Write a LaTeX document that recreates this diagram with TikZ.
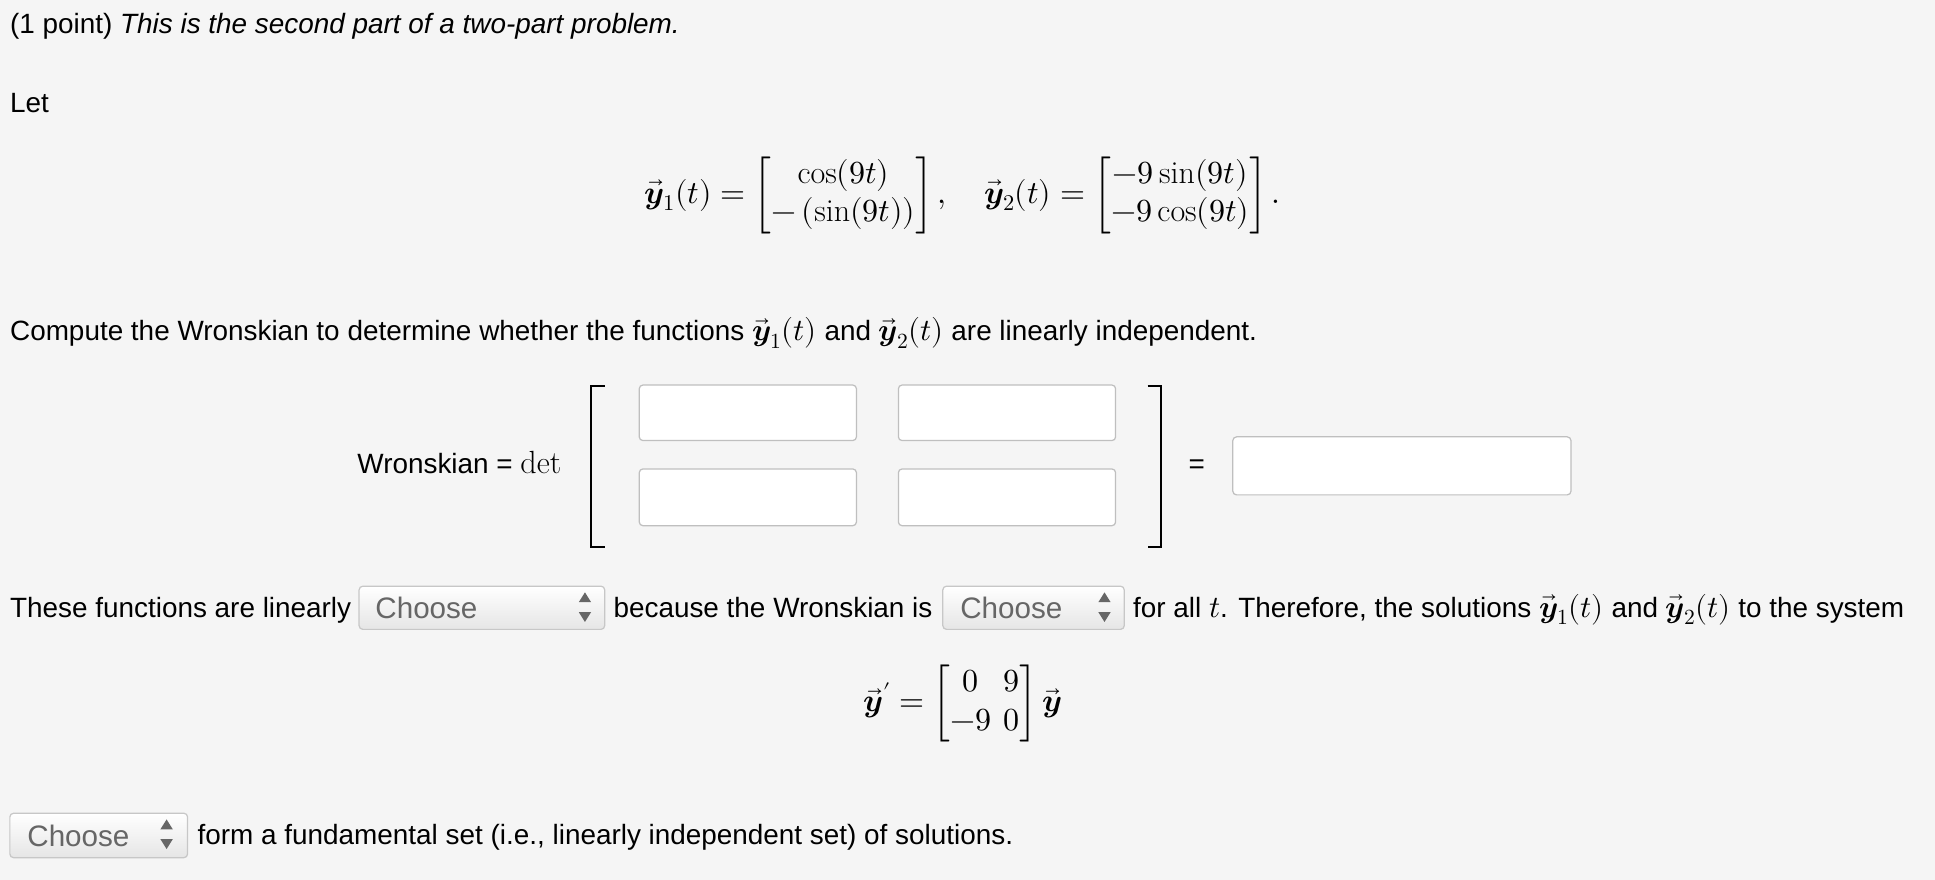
\documentclass[tikz,border=0pt]{standalone}
\usepackage{amsmath}
\usepackage{fontspec}
\setmainfont{Liberation Sans}
\usepackage{unicode-math}
\setmathfont{Latin Modern Math}
\setmathrm{Latin Modern Roman}
\setoperatorfont\mathrm
\newcommand{\vy}{\vec{\symbfit{y}}}
\begin{document}
\begin{tikzpicture}[x=1pt,y=-1pt,
 txt/.style={anchor=base west,inner sep=0pt,font=\fontsize{22.6}{27}\selectfont},
 mth/.style={inner sep=0pt,font=\fontsize{26}{31}\selectfont},
 inbox/.style={draw=black!25,fill=white,rounded corners=3pt,line width=1pt,inner sep=0pt,minimum width=176pt,minimum height=45pt},
 dd/.style={draw=black!22,top color=white,bottom color=black!10,rounded corners=3pt,line width=1pt},
 arr/.style={fill=black!60}]
\fill[black!4] (0,0) rectangle (1568,713);
\useasboundingbox (0,0) rectangle (1568,713);
\node[txt] (title) at (8,27) {(1 point) \textit{This is the second part of a two-part problem.}};
\node[txt] (let) at (8,91) {Let};
\node[mth] (eq1) at (780,158) {$\vy_1(t)=\begin{bmatrix}\cos(9t)\\-\,(\sin(9t))\end{bmatrix},\quad \vy_2(t)=\begin{bmatrix}-9\sin(9t)\\-9\cos(9t)\end{bmatrix}.$};
\node[txt] (comp) at (8,276) {Compute the Wronskian to determine whether the functions {\fontsize{25}{29}\selectfont$\vy_1(t)$} and {\fontsize{25}{29}\selectfont$\vy_2(t)$} are linearly independent.};
\node[txt,anchor=base east] (wr) at (455,384) {Wronskian = \fontsize{26}{30}\selectfont$\det$};
\draw[line width=1.3pt] (490,313) -- (479,313) -- (479,443) -- (490,443);
\draw[line width=1.3pt] (930,313) -- (941,313) -- (941,443) -- (930,443);
\node[inbox] (b11) at (606,334.5) {};
\node[inbox] (b12) at (816,334.5) {};
\node[inbox,minimum height=46pt] (b21) at (606,403) {};
\node[inbox,minimum height=46pt] (b22) at (816,403) {};
\node[txt] (eq) at (963,384) {=};
\node[inbox,minimum width=274pt,minimum height=47pt] (res) at (1136,377.5) {};
\node[txt] (l1) at (8,500) {These functions are linearly};
\draw[dd] (291,475) rectangle (490,510);
\node[txt,text=black!60,font=\fontsize{24}{28}\selectfont] (c1) at (304,501) {Choose};
\fill[arr] (469,488) -- (479,488) -- (474,480) -- cycle (469,496) -- (479,496) -- (474,504) -- cycle;
\node[txt] (l2) at (497,500) {because the Wronskian is};
\draw[dd] (764,475) rectangle (911,510);
\node[txt,text=black!60,font=\fontsize{24}{28}\selectfont] (c2) at (778,501) {Choose};
\fill[arr] (890,488) -- (900,488) -- (895,480) -- cycle (890,496) -- (900,496) -- (895,504) -- cycle;
\node[txt] (l3) at (918,500) {for all {\fontsize{25}{29}\selectfont$t$}. Therefore, the solutions {\fontsize{25}{29}\selectfont$\vy_1(t)$} and {\fontsize{25}{29}\selectfont$\vy_2(t)$} to the system};
\node[mth] (eq2) at (780,570) {$\vy'=\begin{bmatrix}0&9\\-9&0\end{bmatrix}\vy$};
\draw[dd] (8,659) rectangle (152,695);
\node[txt,text=black!60,font=\fontsize{24}{28}\selectfont] (c3) at (22,686) {Choose};
\fill[arr] (130,672) -- (140,672) -- (135,664) -- cycle (130,680) -- (140,680) -- (135,688) -- cycle;
\node[txt] (l4) at (160,684) {form a fundamental set (i.e., linearly independent set) of solutions.};
\end{tikzpicture}
\end{document}
